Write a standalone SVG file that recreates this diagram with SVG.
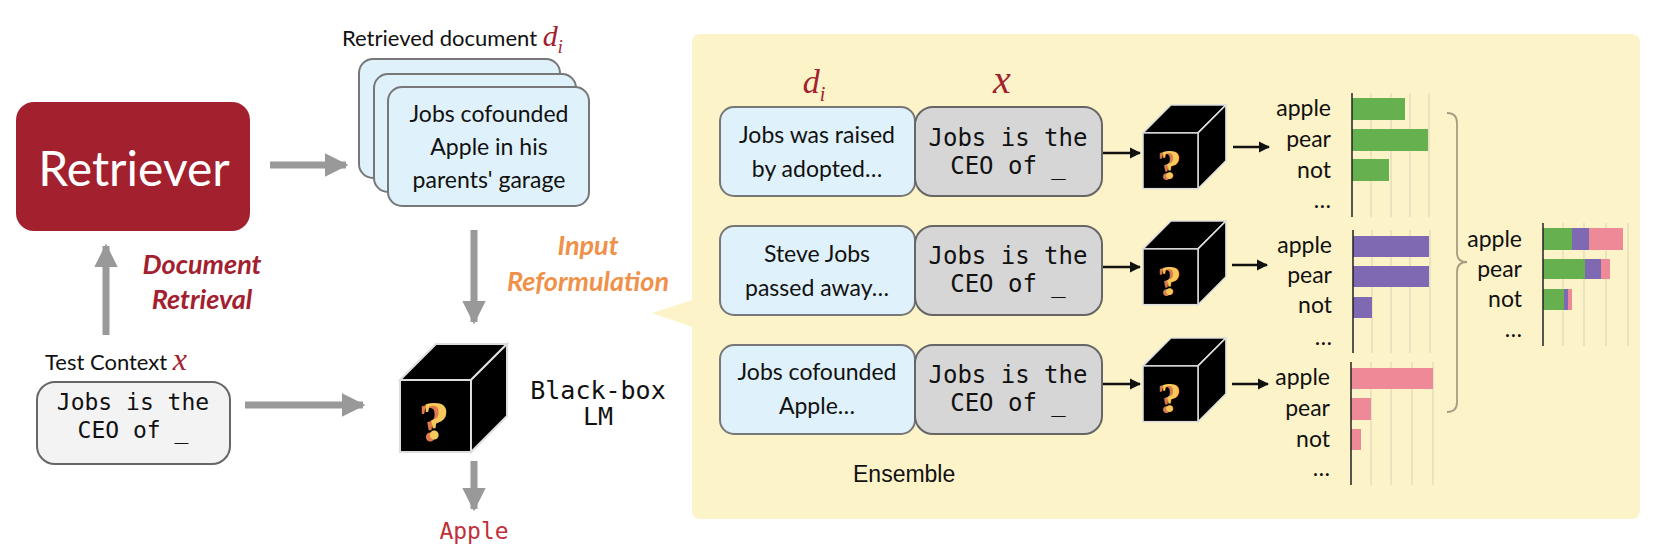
<svg xmlns="http://www.w3.org/2000/svg" width="1662" height="558" viewBox="0 0 1662 558">
<defs>
<style>
.sans{font-family:"Lato","Liberation Sans",sans-serif}
.mono{font-family:"DejaVu Sans Mono","Liberation Mono",monospace}
.doc{fill:#dff1fb;stroke:#777;stroke-width:2}
.ctx{fill:#d6d6d6;stroke:#666;stroke-width:2}
.lab{font-family:"Lato","Liberation Sans",sans-serif;font-size:23px;fill:#111;text-anchor:end}
.grid{stroke:#e6dcbc;stroke-width:1.5}
.ax{stroke:#222;stroke-width:1.5}
.g{fill:#66b04f}.p{fill:#7f69b3}.k{fill:#ee8a97}
</style>
<marker id="ga" viewBox="0 0 10 10" refX="9" refY="5" markerWidth="3.4" markerHeight="3.4" orient="auto"><path d="M0 0L10 5L0 10z" fill="#999"/></marker>
<marker id="ba" viewBox="0 0 10 10" refX="9" refY="5" markerWidth="4.5" markerHeight="4.5" orient="auto"><path d="M0 0L10 5L0 10z" fill="#111"/></marker>
<g id="cube">
<polygon points="0,36 36,0 107,0 71,36" fill="#000" stroke="#ddd" stroke-width="2"/>
<polygon points="71,36 107,0 107,72 71,108" fill="#000" stroke="#ddd" stroke-width="2"/>
<rect x="0" y="36" width="71" height="72" fill="#000" stroke="#ddd" stroke-width="2"/>
<text x="32" y="97" font-family="Liberation Serif,serif" font-weight="bold" font-size="54" text-anchor="middle" fill="#e07a4a">?</text>
<text x="36" y="95" font-family="Liberation Serif,serif" font-weight="bold" font-size="54" text-anchor="middle" fill="#f5c95c">?</text>
</g>
</defs>
<rect width="1662" height="558" fill="#fff"/>
<g id="panel"><path d="M700 34H1632a8 8 0 0 1 8 8V511a8 8 0 0 1-8 8H700a8 8 0 0 1-8-8V327L652 313L692 300V42a8 8 0 0 1 8-8Z" fill="#fcf3c9"/></g>
<g id="connectors" fill="none">
<g stroke="#999" stroke-width="7">
<line x1="270" y1="165" x2="346" y2="165" marker-end="url(#ga)"/>
<line x1="106" y1="335" x2="106" y2="246" marker-end="url(#ga)"/>
<line x1="245" y1="405" x2="363" y2="405" marker-end="url(#ga)"/>
<line x1="474" y1="230" x2="474" y2="322" marker-end="url(#ga)"/>
<line x1="474" y1="461" x2="474" y2="509" marker-end="url(#ga)"/>
</g>
<g stroke="#111" stroke-width="2.5">
<line x1="1103" y1="153" x2="1140" y2="153" marker-end="url(#ba)"/>
<line x1="1103" y1="267" x2="1140" y2="267" marker-end="url(#ba)"/>
<line x1="1103" y1="384" x2="1140" y2="384" marker-end="url(#ba)"/>
<line x1="1233" y1="147" x2="1269" y2="147" marker-end="url(#ba)"/>
<line x1="1232" y1="265" x2="1267" y2="265" marker-end="url(#ba)"/>
<line x1="1232" y1="384" x2="1268" y2="384" marker-end="url(#ba)"/>
</g>
</g>
<g id="retriever"><rect x="16" y="102" width="234" height="129" rx="18" fill="#a3202f"/><text x="134" y="186" class="sans" font-size="48" fill="#fff" text-anchor="middle">Retriever</text></g>
<g id="docs">
<text x="342" y="46" class="sans" font-size="22" fill="#111">Retrieved document <tspan font-family="Liberation Serif,serif" font-style="italic" font-size="30" fill="#a3202f">d</tspan><tspan font-family="Liberation Serif,serif" font-style="italic" font-size="18" fill="#a3202f" dy="7">i</tspan></text>
<rect x="359" y="59" width="201" height="119" rx="14" class="doc"/>
<rect x="374" y="74" width="202" height="118" rx="14" class="doc"/>
<rect x="388" y="87" width="201" height="119" rx="14" class="doc"/>
<text class="sans" font-size="23" fill="#111" text-anchor="middle"><tspan x="489" y="122">Jobs cofounded</tspan><tspan x="489" y="155">Apple in his</tspan><tspan x="489" y="188">parents' garage</tspan></text>
</g>
<g id="doclabel"><text class="sans" font-size="27" font-weight="bold" font-style="italic" fill="#a3202f" text-anchor="middle"><tspan x="202" y="274">Document</tspan><tspan x="202" y="309">Retrieval</tspan></text></g>
<g id="reform"><text class="sans" font-size="27" font-weight="bold" font-style="italic" fill="#f0914a" text-anchor="middle"><tspan x="588" y="255">Input</tspan><tspan x="588" y="291">Reformulation</tspan></text></g>
<g id="test">
<text x="45" y="370" class="sans" font-size="22" fill="#111">Test Context <tspan font-family="Liberation Serif,serif" font-style="italic" font-size="32" fill="#a3202f">x</tspan></text>
<rect x="37" y="382" width="193" height="82" rx="18" fill="#f3f3f3" stroke="#666" stroke-width="2"/>
<text class="mono" font-size="23" fill="#111" text-anchor="middle"><tspan x="133" y="410">Jobs is the</tspan><tspan x="133" y="438">CEO of _</tspan></text>
</g>
<g id="lm"><use href="#cube" transform="translate(400,344)"/><text class="mono" font-size="25" fill="#111" text-anchor="middle"><tspan x="598" y="399">Black-box</tspan><tspan x="598" y="425">LM</tspan></text></g>
<g id="out"><text x="474" y="539" class="mono" font-size="23" fill="#c0303a" text-anchor="middle">Apple</text></g>
<g id="heads">
<text x="814" y="93" font-family="Liberation Serif,serif" font-style="italic" font-size="34" fill="#a3202f" text-anchor="middle">d<tspan font-size="20" dy="8">i</tspan></text>
<text x="1002" y="93" font-family="Liberation Serif,serif" font-style="italic" font-size="40" fill="#a3202f" text-anchor="middle">x</text>
</g>
<g id="row1"><rect x="720" y="107" width="195" height="89" rx="14" class="doc"/><text class="sans" font-size="23" fill="#111" text-anchor="middle"><tspan x="817" y="143">Jobs was raised</tspan><tspan x="817" y="177">by adopted…</tspan></text>
<rect x="915" y="107" width="187" height="89" rx="18" class="ctx"/><text class="mono" font-size="24" fill="#111" text-anchor="middle"><tspan x="1008" y="146">Jobs is the</tspan><tspan x="1008" y="174">CEO of _</tspan></text>
<use href="#cube" transform="translate(1143,105) scale(0.775)"/></g>
<g id="row2"><rect x="720" y="226" width="195" height="89" rx="14" class="doc"/><text class="sans" font-size="23" fill="#111" text-anchor="middle"><tspan x="817" y="262">Steve Jobs</tspan><tspan x="817" y="296">passed away…</tspan></text>
<rect x="915" y="226" width="187" height="89" rx="18" class="ctx"/><text class="mono" font-size="24" fill="#111" text-anchor="middle"><tspan x="1008" y="264">Jobs is the</tspan><tspan x="1008" y="292">CEO of _</tspan></text>
<use href="#cube" transform="translate(1143,221) scale(0.775)"/></g>
<g id="row3"><rect x="720" y="345" width="195" height="89" rx="14" class="doc"/><text class="sans" font-size="23" fill="#111" text-anchor="middle"><tspan x="817" y="380">Jobs cofounded</tspan><tspan x="817" y="414">Apple…</tspan></text>
<rect x="915" y="345" width="187" height="89" rx="18" class="ctx"/><text class="mono" font-size="24" fill="#111" text-anchor="middle"><tspan x="1008" y="383">Jobs is the</tspan><tspan x="1008" y="411">CEO of _</tspan></text>
<use href="#cube" transform="translate(1143,338) scale(0.775)"/></g>
<g id="chart1">
<line class="grid" x1="1371" y1="93" x2="1371" y2="217"/><line class="grid" x1="1391" y1="93" x2="1391" y2="217"/><line class="grid" x1="1410" y1="93" x2="1410" y2="217"/><line class="grid" x1="1429" y1="93" x2="1429" y2="217"/>
<rect class="g" x="1352" y="98" width="53" height="22"/><rect class="g" x="1352" y="129" width="76" height="22"/><rect class="g" x="1352" y="159" width="37" height="22"/>
<line class="ax" x1="1352" y1="93" x2="1352" y2="217"/>
<text class="lab" x="1331" y="116">apple</text><text class="lab" x="1331" y="147">pear</text><text class="lab" x="1331" y="178">not</text><text class="lab" x="1331" y="208">…</text>
</g>
<g id="chart2">
<line class="grid" x1="1372" y1="230" x2="1372" y2="353"/><line class="grid" x1="1391" y1="230" x2="1391" y2="353"/><line class="grid" x1="1410" y1="230" x2="1410" y2="353"/><line class="grid" x1="1430" y1="230" x2="1430" y2="353"/>
<rect class="p" x="1353" y="236" width="76" height="21"/><rect class="p" x="1353" y="266" width="76" height="21"/><rect class="p" x="1353" y="297" width="19" height="21"/>
<line class="ax" x1="1353" y1="230" x2="1353" y2="353"/>
<text class="lab" x="1332" y="253">apple</text><text class="lab" x="1332" y="283">pear</text><text class="lab" x="1332" y="313">not</text><text class="lab" x="1332" y="345">…</text>
</g>
<g id="chart3">
<line class="grid" x1="1371" y1="362" x2="1371" y2="485"/><line class="grid" x1="1391" y1="362" x2="1391" y2="485"/><line class="grid" x1="1412" y1="362" x2="1412" y2="485"/><line class="grid" x1="1433" y1="362" x2="1433" y2="485"/>
<rect class="k" x="1351" y="368" width="82" height="21"/><rect class="k" x="1351" y="398" width="20" height="22"/><rect class="k" x="1351" y="429" width="10" height="21"/>
<line class="ax" x1="1351" y1="362" x2="1351" y2="485"/>
<text class="lab" x="1330" y="385">apple</text><text class="lab" x="1330" y="416">pear</text><text class="lab" x="1330" y="447">not</text><text class="lab" x="1330" y="476">…</text>
</g>
<g id="brace"><path d="M1447 113q10 0 10 10V253q0 9 10 9q-10 0-10 10V402q0 10-10 10" fill="none" stroke="#a89c80" stroke-width="1.8"/></g>
<g id="chart4">
<line class="grid" x1="1563" y1="223" x2="1563" y2="346"/><line class="grid" x1="1584" y1="223" x2="1584" y2="346"/><line class="grid" x1="1606" y1="223" x2="1606" y2="346"/><line class="grid" x1="1628" y1="223" x2="1628" y2="346"/>
<rect class="g" x="1543" y="228" width="29" height="22"/><rect class="p" x="1572" y="228" width="17" height="22"/><rect class="k" x="1589" y="228" width="34" height="22"/>
<rect class="g" x="1543" y="259" width="42" height="20"/><rect class="p" x="1585" y="259" width="16" height="20"/><rect class="k" x="1601" y="259" width="9" height="20"/>
<rect class="g" x="1543" y="289" width="21" height="21"/><rect class="p" x="1564" y="289" width="4" height="21"/><rect class="k" x="1568" y="289" width="4" height="21"/>
<line class="ax" x1="1543" y1="223" x2="1543" y2="346"/>
<text class="lab" x="1522" y="247">apple</text><text class="lab" x="1522" y="277">pear</text><text class="lab" x="1522" y="307">not</text><text class="lab" x="1522" y="337">…</text>
</g>
<g id="ensemble"><text x="853" y="482" font-family="Liberation Sans,sans-serif" font-size="23" fill="#111">Ensemble</text></g>
</svg>
